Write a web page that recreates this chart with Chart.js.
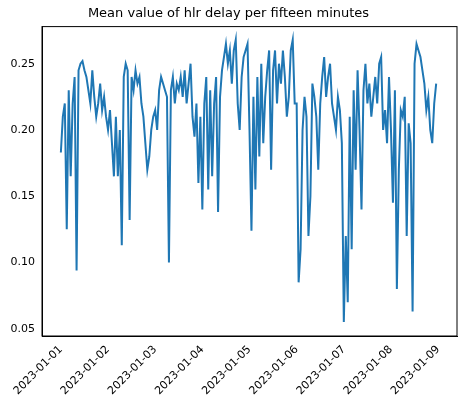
<!DOCTYPE html>
<html><head><script src="https://cdn.jsdelivr.net/npm/chart.js@4"></script>
<style>body{margin:0;background:#fff}#w{width:474px;height:407px}</style></head>
<body><div id="w"><canvas id="c"></canvas></div>
<script>
const dayLabels=["2023-01-01","2023-01-02","2023-01-03","2023-01-04","2023-01-05","2023-01-06","2023-01-07","2023-01-08","2023-01-09"];
const yTicks=[0.05,0.10,0.15,0.20,0.25];
const hourlyValues=[
0.183,0.21,0.22,0.125,0.23,0.165,0.22,0.24,0.094,0.245,0.25,0.252,0.245,0.24,0.23,0.22,0.245,0.225,0.21,0.22,0.235,0.215,0.225,0.21,
0.20,0.215,0.19,0.165,0.21,0.165,0.2,0.113,0.24,0.25,0.245,0.132,0.24,0.23,0.245,0.235,0.24,0.22,0.21,0.19,0.17,0.18,0.2,0.21,
0.215,0.2,0.23,0.24,0.235,0.23,0.225,0.10,0.23,0.24,0.22,0.235,0.23,0.24,0.225,0.245,0.22,0.235,0.25,0.21,0.195,0.22,0.16,0.21,
0.14,0.22,0.24,0.155,0.23,0.165,0.22,0.24,0.138,0.225,0.245,0.255,0.265,0.25,0.26,0.235,0.26,0.268,0.22,0.2,0.24,0.255,0.26,0.265,
0.2,0.124,0.225,0.155,0.24,0.18,0.25,0.19,0.225,0.245,0.26,0.17,0.245,0.26,0.22,0.25,0.235,0.26,0.24,0.21,0.225,0.26,0.268,0.22,
0.22,0.085,0.11,0.2,0.225,0.21,0.12,0.15,0.235,0.225,0.21,0.17,0.22,0.24,0.255,0.225,0.24,0.25,0.22,0.21,0.2,0.225,0.215,0.19,
0.055,0.12,0.07,0.21,0.11,0.23,0.17,0.245,0.2,0.14,0.23,0.25,0.22,0.235,0.21,0.225,0.24,0.22,0.25,0.255,0.2,0.215,0.19,0.24,
0.2,0.145,0.23,0.08,0.17,0.215,0.21,0.225,0.12,0.205,0.19,0.063,0.25,0.265,0.26,0.255,0.245,0.235,0.215,0.225,0.2,0.19,0.22,0.235];
const pts=hourlyValues.map((v,i)=>({x:i,y:v}));
const font={family:"DejaVu Sans",size:11};
new Chart(document.getElementById('c'),{type:'line',
data:{datasets:[{data:pts,borderColor:'#1f77b4',borderWidth:2,pointRadius:0,tension:0,fill:false}]},
options:{animation:false,responsive:true,maintainAspectRatio:false,
layout:{padding:{right:17,top:6}},
plugins:{legend:{display:false},tooltip:{enabled:false},
title:{display:true,text:'Mean value of hlr delay per fifteen minutes',color:'#000',font:{family:"DejaVu Sans",size:13,weight:'normal'},padding:{top:0,bottom:5}}},
scales:{
x:{type:'linear',min:-9.6,max:201.6,grid:{display:false,drawTicks:true,tickLength:4,tickColor:'#000'},border:{color:'#000'},
 afterBuildTicks:s=>{s.ticks=dayLabels.map((d,i)=>({value:i*24}));},
 afterFit:s=>{s.height=71;},
 ticks:{color:'#000',font,maxRotation:45,minRotation:45,callback:(v)=>dayLabels[Math.round(v/24)]}},
y:{min:0.0445,max:0.278,grid:{display:false,tickLength:4,tickColor:'#000'},border:{color:'#000'},
 afterBuildTicks:s=>{s.ticks=yTicks.map(v=>({value:v}));},
 afterFit:s=>{s.width=42;},
 ticks:{color:'#000',font,callback:v=>v.toFixed(2)}}}},
plugins:[{id:'box',afterDraw(c){const a=c.chartArea,x=c.ctx;x.save();x.strokeStyle='#000';x.lineWidth=1;x.strokeRect(a.left,a.top,a.right-a.left,a.bottom-a.top);x.restore();}}]
});
</script></body></html>
